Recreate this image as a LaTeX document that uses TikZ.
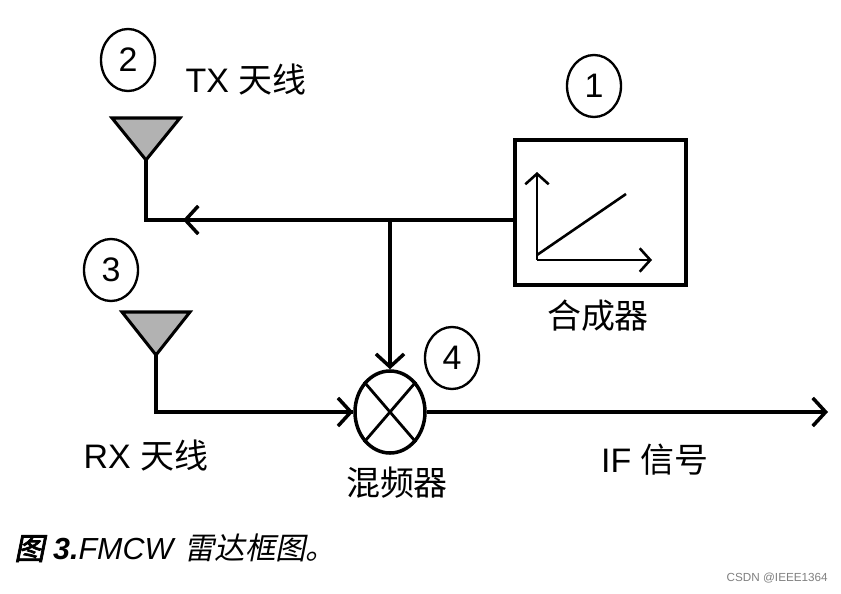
\documentclass[tikz,border=0pt]{standalone}
\usepackage{fontspec}
\setmainfont{Liberation Sans}
\newfontfamily\cjk{Noto Sans CJK SC}
\newfontfamily\cjkb{Noto Sans CJK SC}[FakeSlant=0.2,FakeBold=2.5]
\newfontfamily\cjki{Noto Sans CJK SC}[FakeSlant=0.2]
\usetikzlibrary{arrows.meta,shapes.geometric}
\begin{document}
\begin{tikzpicture}[x=0.03cm,y=-0.03cm,
  wire/.style={line width=3.6pt,-{Straight Barb[length=11pt,width=24pt,line width=3pt]}},
  ln/.style={line width=3.6pt},
  num/.style={draw,line width=2pt,ellipse,minimum width=1.62cm,minimum height=1.86cm,inner sep=0pt,font=\fontsize{29}{30}\selectfont},
  lbl/.style={font=\fontsize{29}{32}\selectfont,inner sep=0pt},
  ant/.style={draw,line width=2.6pt,fill=gray!60,line join=miter}]
\useasboundingbox (0,0) rectangle (841,594);
% numbers
\node[num] (n2) at (128,60) {2};
\node[num] (n1) at (594,86) {1};
\node[num] (n3) at (111,270) {3};
\node[num] (n4) at (452,358) {4};
% labels
\node[lbl] (tx) at (246,80) {TX {\cjk 天线}};
\node[lbl] (rx) at (146,456) {RX {\cjk 天线}};
\node[lbl] (syn) at (598,316) {\cjk 合成器};
\node[lbl] (mixl) at (397,483) {\cjk 混频器};
\node[lbl] (ifl) at (655,460) {IF {\cjk 信号}};
\node[anchor=west,inner sep=0pt,font=\fontsize{26}{30}\selectfont] (cap) at (14,548) {{\cjkb 图} \textbf{\textit{3.}}\textit{FMCW} {\cjki 雷达框图。}};
\node[anchor=east,inner sep=0pt,text=gray,font=\fontsize{10}{12}\selectfont] (wm) at (828,578) {CSDN @IEEE1364};
% antennas
\draw[ant] (112,118) -- (180,118) -- (146,160) -- cycle;
\draw[ant] (122,312) -- (190,312) -- (156,355) -- cycle;
\coordinate (txb) at (146,160);
\coordinate (rxb) at (156,355);
% synthesizer
\node[draw,line width=3.6pt,minimum width=5.13cm,minimum height=4.35cm,inner sep=0pt] (synb) at (600.5,212.5) {};
\draw[line width=2.2pt,-{Straight Barb[length=9pt,width=20pt,line width=2.2pt]}] (537,260) -- (537,172);
\draw[line width=2.2pt,-{Straight Barb[length=9pt,width=20pt,line width=2.2pt]}] (537,260) -- (652,260);
\draw[line width=2.2pt] (537,255) -- (626,194);
% mixer
\node[draw,line width=3pt,ellipse,minimum width=2.1cm,minimum height=2.46cm,inner sep=0pt] (mix) at (390,412) {};
\draw[line width=2.4pt] (mix.north east) -- (mix.south west) (mix.north west) -- (mix.south east);
% wires
\coordinate (j) at (390,220);
\coordinate (txc) at (146,220);
\draw[ln] (synb.west |- j) -- (txc) -- (txb);
\draw[wire] (synb.west |- j) -- (183,220);
\draw[wire] (j) -- (mix.north);
\coordinate (rxc) at (156,412);
\draw[ln] (rxb) -- (rxc) -- (mix.west);
\draw[wire] (rxc) -- (mix.west);
\coordinate (out) at (828,412);
\draw[wire] (mix.east) -- (out);
\end{tikzpicture}
\end{document}
